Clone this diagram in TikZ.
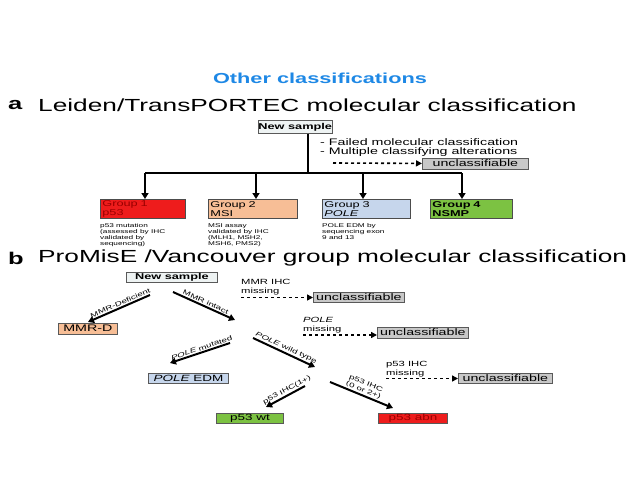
\documentclass[tikz,border=0pt]{standalone}
\usepackage{fontspec}
\setmainfont[FakeStretch=1.5]{Liberation Sans}
\usetikzlibrary{arrows.meta}
\definecolor{ttl}{HTML}{1E88E5}
\definecolor{rbox}{HTML}{EE1C1C}
\definecolor{obox}{HTML}{F7BE96}
\definecolor{bbox}{HTML}{C6D6EC}
\definecolor{gbox}{HTML}{7CC242}
\definecolor{gray1}{HTML}{C8C8C8}
\definecolor{nbox}{HTML}{EEF3F3}
\begin{document}
\begin{tikzpicture}[x=1pt,y=-1pt,
 box/.style={draw=gray!70!black,line width=0.8pt,inner sep=0pt,font=\bfseries\fontsize{8.5}{9}\selectfont,anchor=north west},
 grp/.style={draw=gray!60!black,line width=0.8pt,anchor=north west,inner xsep=2pt,inner ysep=1pt,align=left,font=\fontsize{8.5}{9}\selectfont},
 desc/.style={anchor=north west,align=left,font=\fontsize{5.5}{6.2}\selectfont,inner sep=0pt},
 arr/.style={line width=2pt,-{Triangle[length=6pt,width=7pt]}},
 darr/.style={line width=1.6pt,dash pattern=on 3pt off 3pt,-{Triangle[length=6pt,width=6pt]}},
 lab/.style={sloped,above,inner sep=1pt,font=\fontsize{6.5}{7}\selectfont},
 txt/.style={anchor=west,inner sep=0pt,align=left,font=\fontsize{7.5}{8.5}\selectfont},
 unc/.style={box,fill=gray1,font=\fontsize{9.5}{9}\selectfont}]
\useasboundingbox (0,0) rectangle (638,493);
\node[text=ttl,font=\bfseries\fontsize{14.5}{15}\selectfont] (title) at (320,78) {Other classifications};
\node[anchor=west,font=\bfseries\fontsize{17}{18}\selectfont,inner sep=0pt] (la) at (8,105) {a};
\node[anchor=west,font=\fontsize{17.5}{18}\selectfont,inner sep=0pt] (ta) at (38,105) {Leiden/TransPORTEC molecular classification};
% part a
\node[box,fill=nbox,minimum width=72pt,minimum height=13pt] (ns1) at (258,120) {New sample};
\coordinate (j) at (308,173);
\coordinate (h1) at (145,173);
\coordinate (h4) at (462,173);
\draw[line width=2pt] (ns1.south -| j) -- (j);
\draw[line width=2pt] (h1) -- (h4);
\node[grp,fill=rbox,text=red!60!black,minimum width=85pt,minimum height=19pt,text width=81pt] (g1) at (100,199) {Group 1\\p53};
\node[grp,fill=obox,minimum width=89pt,minimum height=19pt,text width=85pt] (g2) at (208,199) {Group 2\\MSI};
\node[grp,fill=bbox,minimum width=88pt,minimum height=19pt,text width=84pt] (g3) at (322,199) {Group 3\\\itshape POLE};
\node[grp,fill=gbox,minimum width=82pt,minimum height=19pt,text width=78pt,font=\bfseries\fontsize{8.5}{9}\selectfont] (g4) at (430,199) {Group 4\\NSMP};
\draw[arr] (h1) -- (g1.north -| h1);
\draw[arr] (256,173) -- (g2.north -| 256,0);
\draw[arr] (363,173) -- (g3.north -| 363,0);
\draw[arr] (h4) -- (g4.north -| h4);
\node[desc] (d1) at (100,223) {p53 mutation\\(assessed by IHC\\validated by\\sequencing)};
\node[desc] (d2) at (208,223) {MSI assay\\validated by IHC\\(MLH1, MSH2,\\MSH6, PMS2)};
\node[desc] (d3) at (322,223) {POLE EDM by\\sequencing exon\\9 and 13};
\node[txt,font=\fontsize{9.5}{9}\selectfont] (f1) at (320,142) {- Failed molecular classification};
\node[txt,font=\fontsize{9.5}{9}\selectfont] (f2) at (320,152) {- Multiple classifying alterations};
\node[unc,minimum width=106pt,minimum height=11pt] (u1) at (422,157.5) {unclassifiable};
\coordinate (s1) at (333,163);
\draw[darr] (s1) -- (u1.west);
% part b
\node[anchor=west,font=\bfseries\fontsize{17}{18}\selectfont,inner sep=0pt] (lb) at (8,258) {b};
\node[anchor=west,font=\fontsize{17.5}{18}\selectfont,inner sep=0pt] (tb) at (38,258) {ProMisE /Vancouver group molecular classification};
\node[box,fill=nbox,minimum width=91pt,minimum height=10pt] (ns2) at (126,272) {New sample};
\node[box,fill=obox,font=\fontsize{9.5}{8}\selectfont,minimum width=59pt,minimum height=11pt] (mmrd) at (58,322.5) {MMR-D};
\node[box,fill=bbox,font=\itshape\fontsize{9}{8}\selectfont,minimum width=80pt,minimum height=9.5pt] (pe) at (148,373) {POLE\upshape{} EDM};
\node[box,fill=gbox,font=\fontsize{9}{8}\selectfont,minimum width=67pt,minimum height=10pt] (wt) at (216,413) {p53 wt};
\node[box,fill=rbox,text=red!60!black,font=\fontsize{9}{8}\selectfont,minimum width=69pt,minimum height=10pt] (abn) at (378,413) {p53 abn};
\coordinate (a1s) at (150,295); \coordinate (a1e) at (88,322);
\coordinate (a2s) at (173,292); \coordinate (a2e) at (235,320);
\coordinate (a3s) at (230,343); \coordinate (a3e) at (170,363);
\coordinate (a4s) at (253,338); \coordinate (a4e) at (315,367);
\coordinate (a5s) at (305,386); \coordinate (a5e) at (266,407);
\coordinate (a6s) at (330,382); \coordinate (a6e) at (393,408);
\draw[arr] (a1s) -- node[lab,pos=0.45]{MMR-Deficient} (a1e);
\draw[arr] (a2s) -- node[lab,pos=0.5]{MMR intact} (a2e);
\draw[arr] (a3s) -- node[lab,pos=0.45]{\itshape POLE\upshape{} mutated} (a3e);
\draw[arr] (a4s) -- node[lab,pos=0.5]{\itshape POLE\upshape{} wild type} (a4e);
\draw[arr] (a5s) -- node[lab,pos=0.4]{p53 IHC(1+)} (a5e);
\draw[arr] (a6s) -- node[lab,pos=0.5,align=center]{p53 IHC\\(0 or 2+)} (a6e);
\node[unc,minimum width=91pt,minimum height=9.5pt] (u2) at (313,292) {unclassifiable};
\node[unc,minimum width=91pt,minimum height=11pt] (u3) at (377,326.5) {unclassifiable};
\node[unc,minimum width=94pt,minimum height=9.5pt] (u4) at (458,373) {unclassifiable};
\node[txt] (m1) at (241,287) {MMR IHC\\missing};
\node[txt] (m2) at (303,325) {\itshape POLE\\missing};
\node[txt] (m3) at (386,369) {p53 IHC\\missing};
\coordinate (ds2) at (241,297.5); \coordinate (ds3) at (303,335); \coordinate (ds4) at (386,378.5);
\draw[darr] (ds2) -- (u2.west |- ds2);
\draw[darr] (ds3) -- (u3.west |- ds3);
\draw[darr] (ds4) -- (u4.west |- ds4);
\end{tikzpicture}
\end{document}
